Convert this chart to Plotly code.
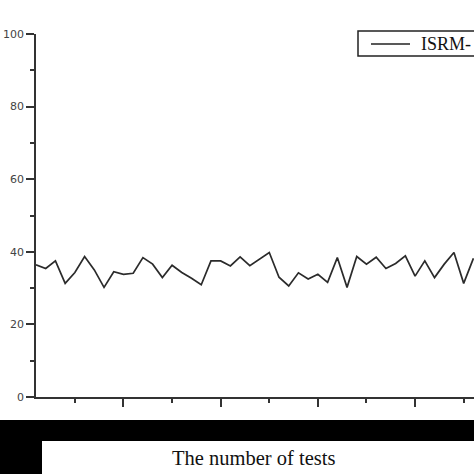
import plotly.graph_objects as go

# test number vs. value
tests = list(range(1, 47))
isrm = [
    36.4, 35.4, 37.5, 31.3, 34.3, 38.7, 35.0, 30.2, 34.5, 33.8,
    34.1, 38.4, 36.6, 32.9, 36.3, 34.3, 32.7, 30.9, 37.5, 37.5,
    36.1, 38.6, 36.2, 37.9, 39.8, 33.0, 30.6, 34.2, 32.5, 33.8,
    31.6, 38.4, 30.2, 38.7, 36.6, 38.5, 35.4, 36.8, 38.9, 33.3,
    37.5, 32.9, 36.6, 39.8, 31.3, 38.2,
]
y_ticks = [0, 20, 40, 60, 80, 100]
series_name = "ISRM-"

W, H = 474, 474
L, T, B = 36, 34, 77
plot_w, plot_h = W - L, H - T - B


def px(x):
    return (x - L) / plot_w


def py(y):
    return (H - B - y) / plot_h


fig = go.Figure()
fig.add_trace(
    go.Scatter(
        x=tests,
        y=isrm,
        mode="lines",
        name=series_name,
        line=dict(color="#2b2b2b", width=1.7),
        cliponaxis=False,
        showlegend=False,
    )
)

axis_style = dict(
    showline=True,
    linecolor="#333333",
    linewidth=1.5,
    showgrid=False,
    zeroline=False,
    ticks="outside",
    tickcolor="#333333",
    tickwidth=1.5,
    ticklen=8,
)

fig.update_xaxes(
    range=[1, 1 + plot_w / 9.72],
    tick0=0,
    dtick=10,
    showticklabels=False,
    minor=dict(dtick=5, tick0=0, ticks="outside", ticklen=4, tickcolor="#333333", tickwidth=1.5),
    **axis_style,
)
fig.update_yaxes(
    range=[0, 100],
    tickvals=y_ticks,
    tickfont=dict(family="DejaVu Sans", size=11, color="#444444"),
    minor=dict(dtick=10, ticks="outside", ticklen=4, tickcolor="#333333", tickwidth=1.5),
    **axis_style,
)

# legend box (cut off by the right edge as in the picture)
fig.add_shape(type="rect", xref="paper", yref="paper",
              x0=px(358), x1=px(W + 20), y0=py(56), y1=py(31),
              fillcolor="white", line=dict(color="#222222", width=1.5))
fig.add_shape(type="line", xref="paper", yref="paper",
              x0=px(371), x1=px(410), y0=py(44), y1=py(44),
              line=dict(color="#222222", width=1.5))
fig.add_annotation(
    text=series_name,
    xref="paper", yref="paper",
    x=px(419), y=py(44),
    xanchor="left", yanchor="middle",
    showarrow=False,
    font=dict(family="Liberation Serif", size=18, color="#111111"),
)

# black band below the axis and the block at lower left
fig.add_shape(type="rect", xref="paper", yref="paper",
              x0=px(-5), x1=px(W + 5), y0=py(420), y1=py(441),
              fillcolor="black", line=dict(width=0), layer="above")
fig.add_shape(type="rect", xref="paper", yref="paper",
              x0=px(-5), x1=px(42), y0=py(441), y1=py(H + 5),
              fillcolor="black", line=dict(width=0), layer="above")

fig.add_annotation(
    text="The number of tests",
    xref="paper", yref="paper",
    x=px(253), y=py(458),
    xanchor="center", yanchor="middle",
    showarrow=False,
    font=dict(family="Liberation Serif", size=20.5, color="#111111"),
)

fig.update_layout(
    width=W,
    height=H,
    margin=dict(l=L, r=0, t=T, b=B, autoexpand=False),
    paper_bgcolor="white",
    plot_bgcolor="white",
)

# page has a default 8px body margin; drop it so the chart sits at 0,0
fig.write_html(
    "out.html",
    config={"displayModeBar": False},
    post_script="document.body.style.margin='0';",
)
